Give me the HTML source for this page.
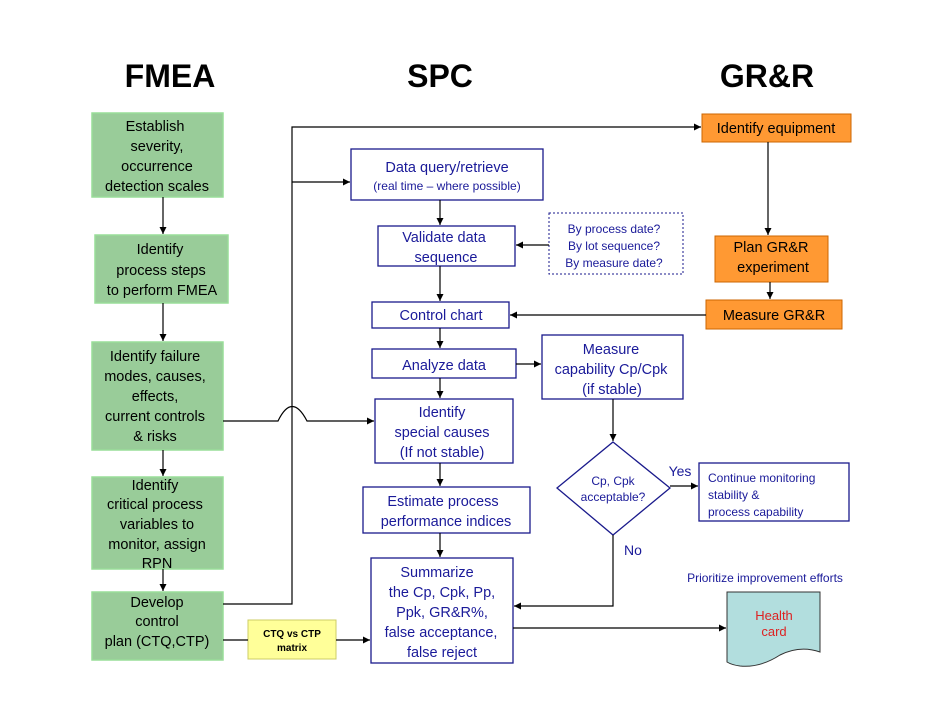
<!DOCTYPE html>
<html><head><style>
html,body{margin:0;padding:0;background:#fff;}
svg{display:block;font-family:"Liberation Sans",sans-serif;}
.g{fill:#99cc99;stroke:#99dd99;stroke-width:1.5}
.b{fill:#fff;stroke:#1a1a8c;stroke-width:1.3}
.o{fill:#ff9933;stroke:#cc6600;stroke-width:1}
.t{font-size:14.5px;fill:#000;text-anchor:middle}
.u{font-size:14.5px;fill:#1a1a99;text-anchor:middle}
.s{font-size:12px;fill:#1a1a99;text-anchor:middle}
.l{stroke:#000;stroke-width:1.2;fill:none}
.h{font-size:32px;font-weight:bold;text-anchor:middle;fill:#000}
</style></head><body>
<svg width="942" height="728" viewBox="0 0 942 728">
<defs><marker id="a" markerWidth="8" markerHeight="8" refX="7" refY="4" orient="auto" markerUnits="userSpaceOnUse"><path d="M0,0.5 L7,4 L0,7.5z" fill="#000"/></marker></defs>
<text class="h" x="170" y="87">FMEA</text>
<text class="h" x="440" y="87">SPC</text>
<text class="h" x="767" y="87">GR&amp;R</text>

<!-- FMEA -->
<rect class="g" x="92" y="113" width="131" height="84"/>
<text class="t" x="155" y="131">Establish</text><text class="t" x="157" y="151">severity,</text><text class="t" x="157" y="171">occurrence</text><text class="t" x="157" y="191">detection scales</text>
<rect class="g" x="95" y="235" width="133" height="68"/>
<text class="t" x="160" y="254">Identify</text><text class="t" x="161" y="275">process steps</text><text class="t" x="162" y="295">to perform FMEA</text>
<rect class="g" x="92" y="342" width="131" height="108"/>
<text class="t" x="155" y="361">Identify failure</text><text class="t" x="155" y="381">modes, causes,</text><text class="t" x="155" y="401">effects,</text><text class="t" x="155" y="421">current controls</text><text class="t" x="155" y="441">&amp; risks</text>
<rect class="g" x="92" y="477" width="131" height="92"/>
<text class="t" x="155" y="490">Identify</text><text class="t" x="155" y="509">critical process</text><text class="t" x="157" y="529">variables to</text><text class="t" x="157" y="549">monitor, assign</text><text class="t" x="157" y="568">RPN</text>
<rect class="g" x="92" y="592" width="131" height="68"/>
<text class="t" x="157" y="607">Develop</text><text class="t" x="157" y="626">control</text><text class="t" x="157" y="646">plan (CTQ,CTP)</text>
<rect x="248" y="620" width="88" height="39" fill="#ffff99" stroke="#cccc66"/>
<text x="292" y="637" font-size="10" font-weight="bold" text-anchor="middle">CTQ vs CTP</text>
<text x="292" y="651" font-size="10" font-weight="bold" text-anchor="middle">matrix</text>
<g class="l">
<path d="M163,197V234" marker-end="url(#a)"/><path d="M163,303V341" marker-end="url(#a)"/>
<path d="M163,450V476" marker-end="url(#a)"/><path d="M163,569V591" marker-end="url(#a)"/>
<path d="M223,604H292V127H701" marker-end="url(#a)"/>
<path d="M292,182H350" marker-end="url(#a)"/>
<path d="M223,421H278Q292,392 307,421H374" marker-end="url(#a)"/>
<path d="M223,640H248"/><path d="M336,640H370" marker-end="url(#a)"/>
</g>

<!-- SPC -->
<rect class="b" x="351" y="149" width="192" height="51"/>
<text class="u" x="447" y="172">Data query/retrieve</text><text class="s" x="447" y="190">(real time – where possible)</text>
<rect class="b" x="378" y="226" width="137" height="40"/>
<text class="u" x="444" y="242">Validate data</text><text class="u" x="446" y="262">sequence</text>
<rect x="549" y="213" width="134" height="61" fill="#fff" stroke="#1a1a8c" stroke-dasharray="2,2"/>
<text class="s" x="614" y="233">By process date?</text><text class="s" x="614" y="250">By lot sequence?</text><text class="s" x="614" y="267">By measure date?</text>
<rect class="b" x="372" y="302" width="137" height="26"/>
<text class="u" x="441" y="320">Control chart</text>
<rect class="b" x="372" y="349" width="144" height="29"/>
<text class="u" x="444" y="370">Analyze data</text>
<rect class="b" x="375" y="399" width="138" height="64"/>
<text class="u" x="442" y="417">Identify</text><text class="u" x="442" y="437">special causes</text><text class="u" x="442" y="457">(If not stable)</text>
<rect class="b" x="363" y="487" width="167" height="46"/>
<text class="u" x="443" y="506">Estimate process</text><text class="u" x="446" y="526">performance indices</text>
<rect class="b" x="371" y="558" width="142" height="105"/>
<text class="u" x="437" y="577">Summarize</text><text class="u" x="442" y="597">the Cp, Cpk, Pp,</text><text class="u" x="442" y="617">Ppk, GR&amp;R%,</text><text class="u" x="441" y="637">false acceptance,</text><text class="u" x="442" y="657">false reject</text>
<rect class="b" x="542" y="335" width="141" height="64"/>
<text class="u" x="611" y="354">Measure</text><text class="u" x="611" y="374">capability Cp/Cpk</text><text class="u" x="612" y="394">(if stable)</text>
<path class="b" d="M613,442L670,488L613,535L557,488z"/>
<text class="s" x="613" y="485">Cp, Cpk</text><text class="s" x="613" y="501">acceptable?</text>
<rect class="b" x="699" y="463" width="150" height="58"/>
<text x="708" y="482" font-size="12" fill="#1a1a99">Continue monitoring</text><text x="708" y="499" font-size="12" fill="#1a1a99">stability &amp;</text><text x="708" y="516" font-size="12" fill="#1a1a99">process capability</text>
<text x="680" y="476" font-size="14" fill="#1a1a99" text-anchor="middle">Yes</text>
<text x="633" y="555" font-size="14" fill="#1a1a99" text-anchor="middle">No</text>
<text x="765" y="582" font-size="12" fill="#1a1a99" text-anchor="middle">Prioritize improvement efforts</text>
<path d="M727,592H820V652Q800,645 780,655Q760,668 740,666Q732,665 727,662z" fill="#b2dede" stroke="#333"/>
<text x="774" y="620" font-size="13" fill="#dd2222" text-anchor="middle">Health</text>
<text x="774" y="636" font-size="13" fill="#dd2222" text-anchor="middle">card</text>

<!-- GR&R -->
<rect class="o" x="702" y="114" width="149" height="28"/>
<text class="t" x="776" y="133">Identify equipment</text>
<rect class="o" x="715" y="236" width="113" height="46"/>
<text class="t" x="771" y="252">Plan GR&amp;R</text><text class="t" x="773" y="272">experiment</text>
<rect class="o" x="706" y="300" width="136" height="29"/>
<text class="t" x="774" y="320">Measure GR&amp;R</text>

<g class="l">
<path d="M440,200V225" marker-end="url(#a)"/><path d="M440,266V301" marker-end="url(#a)"/>
<path d="M440,328V348" marker-end="url(#a)"/><path d="M440,378V398" marker-end="url(#a)"/>
<path d="M440,463V486" marker-end="url(#a)"/><path d="M440,533V557" marker-end="url(#a)"/>
<path d="M549,245H516" marker-end="url(#a)"/>
<path d="M706,315H510" marker-end="url(#a)"/>
<path d="M768,142V235" marker-end="url(#a)"/><path d="M770,282V299" marker-end="url(#a)"/>
<path d="M516,364H541" marker-end="url(#a)"/>
<path d="M613,399V441" marker-end="url(#a)"/>
<path d="M670,486H698" marker-end="url(#a)"/>
<path d="M613,535V606H514" marker-end="url(#a)"/>
<path d="M513,628H726" marker-end="url(#a)"/>
</g>
</svg>
</body></html>
